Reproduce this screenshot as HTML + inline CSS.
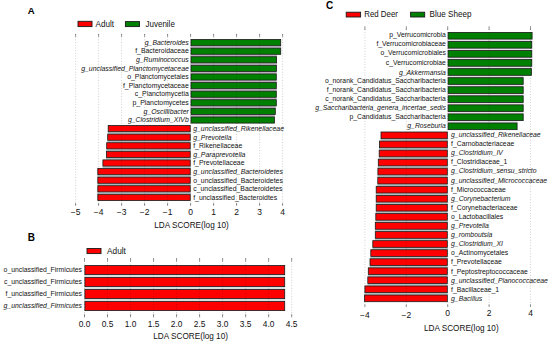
<!DOCTYPE html>
<html><head><meta charset="utf-8"><style>
html,body{margin:0;padding:0;background:#fff;}
body{width:550px;height:344px;overflow:hidden;}
svg{display:block;font-family:"Liberation Sans", sans-serif;}
text{stroke:none;}
text[font-weight=bold]{stroke:none;}
</style></head><body>
<svg width="550" height="344" viewBox="0 0 550 344">
<rect width="550" height="344" fill="#fff"/>
<line x1="75.6" y1="34" x2="75.6" y2="36.8" stroke="#7a7a7a" stroke-width="0.8"/>
<line x1="98.6" y1="34" x2="98.6" y2="36.8" stroke="#7a7a7a" stroke-width="0.8"/>
<line x1="121.6" y1="34" x2="121.6" y2="36.8" stroke="#7a7a7a" stroke-width="0.8"/>
<line x1="144.6" y1="34" x2="144.6" y2="36.8" stroke="#7a7a7a" stroke-width="0.8"/>
<line x1="167.6" y1="34" x2="167.6" y2="36.8" stroke="#7a7a7a" stroke-width="0.8"/>
<line x1="190.6" y1="34" x2="190.6" y2="36.8" stroke="#7a7a7a" stroke-width="0.8"/>
<line x1="213.6" y1="34" x2="213.6" y2="36.8" stroke="#7a7a7a" stroke-width="0.8"/>
<line x1="236.6" y1="34" x2="236.6" y2="36.8" stroke="#7a7a7a" stroke-width="0.8"/>
<line x1="259.6" y1="34" x2="259.6" y2="36.8" stroke="#7a7a7a" stroke-width="0.8"/>
<line x1="282.6" y1="34" x2="282.6" y2="36.8" stroke="#7a7a7a" stroke-width="0.8"/>
<line x1="75.6" y1="203" x2="75.6" y2="205.8" stroke="#7a7a7a" stroke-width="0.8"/>
<line x1="98.6" y1="203" x2="98.6" y2="205.8" stroke="#7a7a7a" stroke-width="0.8"/>
<line x1="121.6" y1="203" x2="121.6" y2="205.8" stroke="#7a7a7a" stroke-width="0.8"/>
<line x1="144.6" y1="203" x2="144.6" y2="205.8" stroke="#7a7a7a" stroke-width="0.8"/>
<line x1="167.6" y1="203" x2="167.6" y2="205.8" stroke="#7a7a7a" stroke-width="0.8"/>
<line x1="190.6" y1="203" x2="190.6" y2="205.8" stroke="#7a7a7a" stroke-width="0.8"/>
<line x1="213.6" y1="203" x2="213.6" y2="205.8" stroke="#7a7a7a" stroke-width="0.8"/>
<line x1="236.6" y1="203" x2="236.6" y2="205.8" stroke="#7a7a7a" stroke-width="0.8"/>
<line x1="259.6" y1="203" x2="259.6" y2="205.8" stroke="#7a7a7a" stroke-width="0.8"/>
<line x1="282.6" y1="203" x2="282.6" y2="205.8" stroke="#7a7a7a" stroke-width="0.8"/>
<rect x="190.6" y="46.1" width="90.5" height="1.6" fill="#bcaec0"/>
<rect x="190.6" y="54.7" width="86.4" height="1.6" fill="#bcaec0"/>
<rect x="190.6" y="63.3" width="86.2" height="1.6" fill="#bcaec0"/>
<rect x="190.6" y="71.9" width="86.1" height="1.6" fill="#bcaec0"/>
<rect x="190.6" y="80.5" width="86.1" height="1.6" fill="#bcaec0"/>
<rect x="190.6" y="89.1" width="86.1" height="1.6" fill="#bcaec0"/>
<rect x="190.6" y="97.7" width="86.1" height="1.6" fill="#bcaec0"/>
<rect x="190.6" y="106.3" width="85.1" height="1.6" fill="#bcaec0"/>
<rect x="190.6" y="114.9" width="84.2" height="1.6" fill="#bcaec0"/>
<rect x="107.8" y="132.1" width="82.8" height="1.6" fill="#a8bcbe"/>
<rect x="107.3" y="140.7" width="83.3" height="1.6" fill="#a8bcbe"/>
<rect x="106.3" y="149.3" width="84.3" height="1.6" fill="#a8bcbe"/>
<rect x="106" y="157.9" width="84.6" height="1.6" fill="#a8bcbe"/>
<rect x="102.5" y="166.5" width="88.1" height="1.6" fill="#a8bcbe"/>
<rect x="97.4" y="175.1" width="93.2" height="1.6" fill="#a8bcbe"/>
<rect x="97.4" y="183.7" width="93.2" height="1.6" fill="#a8bcbe"/>
<rect x="97.4" y="192.3" width="93.2" height="1.6" fill="#a8bcbe"/>
<rect x="191" y="39.5" width="89.7" height="6.2" fill="#008000" stroke="#1a1a1a" stroke-width="0.8"/>
<text x="188.8" y="44.8" font-size="6.9" text-anchor="end" font-style="italic" fill="#111">g_Bacteroides</text>
<rect x="191" y="48.1" width="89.7" height="6.2" fill="#008000" stroke="#1a1a1a" stroke-width="0.8"/>
<text x="188.8" y="53.4" font-size="6.9" text-anchor="end" fill="#111">f_Bacteroidaceae</text>
<rect x="191" y="56.7" width="85.6" height="6.2" fill="#008000" stroke="#1a1a1a" stroke-width="0.8"/>
<text x="188.8" y="62" font-size="6.9" text-anchor="end" font-style="italic" fill="#111">g_Ruminococcus</text>
<rect x="191" y="65.3" width="85.4" height="6.2" fill="#008000" stroke="#1a1a1a" stroke-width="0.8"/>
<text x="188.8" y="70.6" font-size="6.9" text-anchor="end" font-style="italic" fill="#111">g_unclassified_Planctomycetaceae</text>
<rect x="191" y="73.9" width="85.3" height="6.2" fill="#008000" stroke="#1a1a1a" stroke-width="0.8"/>
<text x="188.8" y="79.2" font-size="6.9" text-anchor="end" fill="#111">o_Planctomycetales</text>
<rect x="191" y="82.5" width="85.3" height="6.2" fill="#008000" stroke="#1a1a1a" stroke-width="0.8"/>
<text x="188.8" y="87.8" font-size="6.9" text-anchor="end" fill="#111">f_Planctomycetaceae</text>
<rect x="191" y="91.1" width="85.3" height="6.2" fill="#008000" stroke="#1a1a1a" stroke-width="0.8"/>
<text x="188.8" y="96.4" font-size="6.9" text-anchor="end" fill="#111">c_Planctomycetia</text>
<rect x="191" y="99.7" width="85.3" height="6.2" fill="#008000" stroke="#1a1a1a" stroke-width="0.8"/>
<text x="188.8" y="105" font-size="6.9" text-anchor="end" fill="#111">p_Planctomycetes</text>
<rect x="191" y="108.3" width="84.3" height="6.2" fill="#008000" stroke="#1a1a1a" stroke-width="0.8"/>
<text x="188.8" y="113.6" font-size="6.9" text-anchor="end" font-style="italic" fill="#111">g_Oscillibacter</text>
<rect x="191" y="116.9" width="83.4" height="6.2" fill="#008000" stroke="#1a1a1a" stroke-width="0.8"/>
<text x="188.8" y="122.2" font-size="6.9" text-anchor="end" font-style="italic" fill="#111">g_Clostridium_XIVb</text>
<rect x="108.2" y="125.5" width="82" height="6.2" fill="#ff0000" stroke="#1a1a1a" stroke-width="0.8"/>
<text x="193.2" y="130.9" font-size="6.9" text-anchor="start" font-style="italic" fill="#111">g_unclassified_Rikenellaceae</text>
<rect x="107.7" y="134.1" width="82.5" height="6.2" fill="#ff0000" stroke="#1a1a1a" stroke-width="0.8"/>
<text x="193.2" y="139.5" font-size="6.9" text-anchor="start" font-style="italic" fill="#111">g_Prevotella</text>
<rect x="106.7" y="142.7" width="83.5" height="6.2" fill="#ff0000" stroke="#1a1a1a" stroke-width="0.8"/>
<text x="193.2" y="148.1" font-size="6.9" text-anchor="start" fill="#111">f_Rikenellaceae</text>
<rect x="106.4" y="151.3" width="83.8" height="6.2" fill="#ff0000" stroke="#1a1a1a" stroke-width="0.8"/>
<text x="193.2" y="156.7" font-size="6.9" text-anchor="start" font-style="italic" fill="#111">g_Paraprevotella</text>
<rect x="102.9" y="159.9" width="87.3" height="6.2" fill="#ff0000" stroke="#1a1a1a" stroke-width="0.8"/>
<text x="193.2" y="165.3" font-size="6.9" text-anchor="start" fill="#111">f_Prevotellaceae</text>
<rect x="97.8" y="168.5" width="92.4" height="6.2" fill="#ff0000" stroke="#1a1a1a" stroke-width="0.8"/>
<text x="193.2" y="173.9" font-size="6.9" text-anchor="start" font-style="italic" fill="#111">g_unclassified_Bacteroidetes</text>
<rect x="97.8" y="177.1" width="92.4" height="6.2" fill="#ff0000" stroke="#1a1a1a" stroke-width="0.8"/>
<text x="193.2" y="182.5" font-size="6.9" text-anchor="start" fill="#111">o_unclassified_Bacteroidetes</text>
<rect x="97.8" y="185.7" width="92.4" height="6.2" fill="#ff0000" stroke="#1a1a1a" stroke-width="0.8"/>
<text x="193.2" y="191.1" font-size="6.9" text-anchor="start" fill="#111">c_unclassified_Bacteroidetes</text>
<rect x="97.8" y="194.3" width="92.4" height="6.2" fill="#ff0000" stroke="#1a1a1a" stroke-width="0.8"/>
<text x="193.2" y="199.7" font-size="6.9" text-anchor="start" fill="#111">f_unclassified_Bacteroidtes</text>
<text x="75.6" y="215" font-size="8.5" text-anchor="middle" fill="#111">−5</text>
<text x="98.6" y="215" font-size="8.5" text-anchor="middle" fill="#111">−4</text>
<text x="121.6" y="215" font-size="8.5" text-anchor="middle" fill="#111">−3</text>
<text x="144.6" y="215" font-size="8.5" text-anchor="middle" fill="#111">−2</text>
<text x="167.6" y="215" font-size="8.5" text-anchor="middle" fill="#111">−1</text>
<text x="190.6" y="215" font-size="8.5" text-anchor="middle" fill="#111">0</text>
<text x="213.6" y="215" font-size="8.5" text-anchor="middle" fill="#111">1</text>
<text x="236.6" y="215" font-size="8.5" text-anchor="middle" fill="#111">2</text>
<text x="259.6" y="215" font-size="8.5" text-anchor="middle" fill="#111">3</text>
<text x="282.6" y="215" font-size="8.5" text-anchor="middle" fill="#111">4</text>
<text x="154.2" y="227.6" font-size="8.2" text-anchor="start" fill="#111">LDA SCORE(log 10)</text>
<text x="27.8" y="13.9" font-size="9.6" text-anchor="start" font-weight="bold" fill="#000">A</text>
<rect x="78" y="21.3" width="14" height="5.3" fill="#ff0000" stroke="#1a1a1a" stroke-width="0.9"/>
<text transform="translate(95.5 26.6) scale(1 1.12)" font-size="8.1" text-anchor="start" fill="#111">Adult</text>
<rect x="125.4" y="21.6" width="14.1" height="5" fill="#008000" stroke="#1a1a1a" stroke-width="0.9"/>
<text transform="translate(145.5 26.6) scale(1 1.12)" font-size="8.0" text-anchor="start" fill="#111">Juvenile</text>
<line x1="84.5" y1="258.2" x2="84.5" y2="261.5" stroke="#7a7a7a" stroke-width="0.8"/>
<line x1="107.52" y1="258.2" x2="107.52" y2="261.5" stroke="#7a7a7a" stroke-width="0.8"/>
<line x1="130.54" y1="258.2" x2="130.54" y2="261.5" stroke="#7a7a7a" stroke-width="0.8"/>
<line x1="153.56" y1="258.2" x2="153.56" y2="261.5" stroke="#7a7a7a" stroke-width="0.8"/>
<line x1="176.58" y1="258.2" x2="176.58" y2="261.5" stroke="#7a7a7a" stroke-width="0.8"/>
<line x1="199.6" y1="258.2" x2="199.6" y2="261.5" stroke="#7a7a7a" stroke-width="0.8"/>
<line x1="222.62" y1="258.2" x2="222.62" y2="261.5" stroke="#7a7a7a" stroke-width="0.8"/>
<line x1="245.64" y1="258.2" x2="245.64" y2="261.5" stroke="#7a7a7a" stroke-width="0.8"/>
<line x1="268.66" y1="258.2" x2="268.66" y2="261.5" stroke="#7a7a7a" stroke-width="0.8"/>
<line x1="291.68" y1="258.2" x2="291.68" y2="261.5" stroke="#7a7a7a" stroke-width="0.8"/>
<line x1="84.5" y1="314.1" x2="84.5" y2="317.4" stroke="#7a7a7a" stroke-width="0.8"/>
<line x1="107.52" y1="314.1" x2="107.52" y2="317.4" stroke="#7a7a7a" stroke-width="0.8"/>
<line x1="130.54" y1="314.1" x2="130.54" y2="317.4" stroke="#7a7a7a" stroke-width="0.8"/>
<line x1="153.56" y1="314.1" x2="153.56" y2="317.4" stroke="#7a7a7a" stroke-width="0.8"/>
<line x1="176.58" y1="314.1" x2="176.58" y2="317.4" stroke="#7a7a7a" stroke-width="0.8"/>
<line x1="199.6" y1="314.1" x2="199.6" y2="317.4" stroke="#7a7a7a" stroke-width="0.8"/>
<line x1="222.62" y1="314.1" x2="222.62" y2="317.4" stroke="#7a7a7a" stroke-width="0.8"/>
<line x1="245.64" y1="314.1" x2="245.64" y2="317.4" stroke="#7a7a7a" stroke-width="0.8"/>
<line x1="268.66" y1="314.1" x2="268.66" y2="317.4" stroke="#7a7a7a" stroke-width="0.8"/>
<line x1="291.68" y1="314.1" x2="291.68" y2="317.4" stroke="#7a7a7a" stroke-width="0.8"/>
<rect x="84.5" y="275" width="200.6" height="2.1" fill="#d4e0e2"/>
<rect x="84.5" y="287" width="200.6" height="2.1" fill="#d4e0e2"/>
<rect x="84.5" y="299" width="200.6" height="2.1" fill="#d4e0e2"/>
<rect x="84.9" y="265.5" width="199.8" height="9.1" fill="#ff0000" stroke="#1a1a1a" stroke-width="0.8"/>
<text x="82" y="271.65" font-size="6.82" text-anchor="end" fill="#111">o_unclassified_Firmicutes</text>
<rect x="84.9" y="277.5" width="199.8" height="9.1" fill="#ff0000" stroke="#1a1a1a" stroke-width="0.8"/>
<text x="82" y="283.65" font-size="6.82" text-anchor="end" fill="#111">c_unclassified_Firmicutes</text>
<rect x="84.9" y="289.5" width="199.8" height="9.1" fill="#ff0000" stroke="#1a1a1a" stroke-width="0.8"/>
<text x="82" y="295.65" font-size="6.82" text-anchor="end" fill="#111">f_unclassified_Firmicutes</text>
<rect x="84.9" y="301.5" width="199.8" height="9.1" fill="#ff0000" stroke="#1a1a1a" stroke-width="0.8"/>
<text x="82" y="307.65" font-size="6.82" text-anchor="end" font-style="italic" fill="#111">g_unclassified_Firmicutes</text>
<text x="84.5" y="326.6" font-size="8.4" text-anchor="middle" fill="#111">0.0</text>
<text x="107.52" y="326.6" font-size="8.4" text-anchor="middle" fill="#111">0.5</text>
<text x="130.54" y="326.6" font-size="8.4" text-anchor="middle" fill="#111">1.0</text>
<text x="153.56" y="326.6" font-size="8.4" text-anchor="middle" fill="#111">1.5</text>
<text x="176.58" y="326.6" font-size="8.4" text-anchor="middle" fill="#111">2.0</text>
<text x="199.6" y="326.6" font-size="8.4" text-anchor="middle" fill="#111">2.5</text>
<text x="222.62" y="326.6" font-size="8.4" text-anchor="middle" fill="#111">3.0</text>
<text x="245.64" y="326.6" font-size="8.4" text-anchor="middle" fill="#111">3.5</text>
<text x="268.66" y="326.6" font-size="8.4" text-anchor="middle" fill="#111">4.0</text>
<text x="291.68" y="326.6" font-size="8.4" text-anchor="middle" fill="#111">4.5</text>
<text x="153.3" y="339" font-size="8.2" text-anchor="start" fill="#111">LDA SCORE(log 10)</text>
<text x="27.8" y="240.9" font-size="10" text-anchor="start" font-weight="bold" fill="#000">B</text>
<rect x="87" y="248.5" width="14" height="5.1" fill="#ff0000" stroke="#1a1a1a" stroke-width="0.9"/>
<text transform="translate(107 253.5) scale(1 1.1)" font-size="8.3" text-anchor="start" fill="#111">Adult</text>
<line x1="364.9" y1="26.5" x2="364.9" y2="30" stroke="#7a7a7a" stroke-width="0.8"/>
<line x1="406.3" y1="26.5" x2="406.3" y2="30" stroke="#7a7a7a" stroke-width="0.8"/>
<line x1="447.7" y1="26.5" x2="447.7" y2="30" stroke="#7a7a7a" stroke-width="0.8"/>
<line x1="489.1" y1="26.5" x2="489.1" y2="30" stroke="#7a7a7a" stroke-width="0.8"/>
<line x1="530.5" y1="26.5" x2="530.5" y2="30" stroke="#7a7a7a" stroke-width="0.8"/>
<line x1="364.9" y1="304.4" x2="364.9" y2="307.1" stroke="#7a7a7a" stroke-width="0.8"/>
<line x1="406.3" y1="304.4" x2="406.3" y2="307.1" stroke="#7a7a7a" stroke-width="0.8"/>
<line x1="447.7" y1="304.4" x2="447.7" y2="307.1" stroke="#7a7a7a" stroke-width="0.8"/>
<line x1="489.1" y1="304.4" x2="489.1" y2="307.1" stroke="#7a7a7a" stroke-width="0.8"/>
<line x1="530.5" y1="304.4" x2="530.5" y2="307.1" stroke="#7a7a7a" stroke-width="0.8"/>
<rect x="447.7" y="39.5" width="84.5" height="1.55" fill="#e6dee8"/>
<rect x="447.7" y="48.55" width="84.5" height="1.55" fill="#e6dee8"/>
<rect x="447.7" y="57.61" width="84.5" height="1.55" fill="#e6dee8"/>
<rect x="447.7" y="66.66" width="84.1" height="1.56" fill="#e6dee8"/>
<rect x="447.7" y="75.72" width="75.9" height="1.56" fill="#e6dee8"/>
<rect x="447.7" y="84.78" width="75.9" height="1.55" fill="#e6dee8"/>
<rect x="447.7" y="93.83" width="75.9" height="1.56" fill="#e6dee8"/>
<rect x="447.7" y="102.88" width="75.9" height="1.56" fill="#e6dee8"/>
<rect x="447.7" y="111.94" width="75.9" height="1.56" fill="#e6dee8"/>
<rect x="447.7" y="121" width="69.8" height="1.55" fill="#e6dee8"/>
<rect x="380.6" y="139.1" width="67.1" height="1.56" fill="#aec2c4"/>
<rect x="379.1" y="148.16" width="68.6" height="1.56" fill="#aec2c4"/>
<rect x="378.8" y="157.21" width="68.9" height="1.56" fill="#aec2c4"/>
<rect x="377.9" y="166.27" width="69.8" height="1.56" fill="#aec2c4"/>
<rect x="377.5" y="175.32" width="70.2" height="1.56" fill="#aec2c4"/>
<rect x="377.4" y="184.38" width="70.3" height="1.56" fill="#aec2c4"/>
<rect x="375.8" y="193.44" width="71.9" height="1.56" fill="#aec2c4"/>
<rect x="375.8" y="202.49" width="71.9" height="1.56" fill="#aec2c4"/>
<rect x="375.8" y="211.54" width="71.9" height="1.56" fill="#aec2c4"/>
<rect x="375.4" y="220.6" width="72.3" height="1.56" fill="#aec2c4"/>
<rect x="374.9" y="229.65" width="72.8" height="1.56" fill="#aec2c4"/>
<rect x="374.9" y="238.71" width="72.8" height="1.56" fill="#aec2c4"/>
<rect x="372.4" y="247.76" width="75.3" height="1.56" fill="#aec2c4"/>
<rect x="370.4" y="256.82" width="77.3" height="1.56" fill="#aec2c4"/>
<rect x="369.6" y="265.88" width="78.1" height="1.56" fill="#aec2c4"/>
<rect x="367.9" y="274.93" width="79.8" height="1.56" fill="#aec2c4"/>
<rect x="367.4" y="283.98" width="80.3" height="1.56" fill="#aec2c4"/>
<rect x="364.5" y="293.04" width="83.2" height="1.56" fill="#aec2c4"/>
<rect x="448.1" y="32.4" width="84" height="6.7" fill="#008000" stroke="#1a1a1a" stroke-width="0.8"/>
<text x="445.9" y="37.15" font-size="6.8" text-anchor="end" fill="#111">p_Verrucomicrobia</text>
<rect x="448.1" y="41.45" width="83.7" height="6.7" fill="#008000" stroke="#1a1a1a" stroke-width="0.8"/>
<text x="445.9" y="46.25" font-size="6.8" text-anchor="end" fill="#111">f_Verrucomicrobiaceae</text>
<rect x="448.1" y="50.51" width="83.7" height="6.7" fill="#008000" stroke="#1a1a1a" stroke-width="0.8"/>
<text x="445.9" y="55.35" font-size="6.8" text-anchor="end" fill="#111">o_Verrucomicrobiales</text>
<rect x="448.1" y="59.56" width="83.7" height="6.7" fill="#008000" stroke="#1a1a1a" stroke-width="0.8"/>
<text x="445.9" y="65.45" font-size="6.8" text-anchor="end" fill="#111">c_Verrucomicrobiae</text>
<rect x="448.1" y="68.62" width="83.3" height="6.7" fill="#008000" stroke="#1a1a1a" stroke-width="0.8"/>
<text x="445.9" y="74.55" font-size="6.8" text-anchor="end" font-style="italic" fill="#111">g_Akkermansia</text>
<rect x="448.1" y="77.68" width="75.1" height="6.7" fill="#008000" stroke="#1a1a1a" stroke-width="0.8"/>
<text x="445.9" y="82.65" font-size="6.8" text-anchor="end" fill="#111">o_norank_Candidatus_Saccharibacteria</text>
<rect x="448.1" y="86.73" width="75.1" height="6.7" fill="#008000" stroke="#1a1a1a" stroke-width="0.8"/>
<text x="445.9" y="91.75" font-size="6.8" text-anchor="end" fill="#111">f_norank_Candidatus_Saccharibacteria</text>
<rect x="448.1" y="95.78" width="75.1" height="6.7" fill="#008000" stroke="#1a1a1a" stroke-width="0.8"/>
<text x="445.9" y="100.85" font-size="6.8" text-anchor="end" fill="#111">c_norank_Candidatus_Saccharibacteria</text>
<rect x="448.1" y="104.84" width="75.1" height="6.7" fill="#008000" stroke="#1a1a1a" stroke-width="0.8"/>
<text x="445.9" y="109.95" font-size="6.8" text-anchor="end" font-style="italic" fill="#111">g_Saccharibacteria_genera_incertae_sedis</text>
<rect x="448.1" y="113.9" width="75.1" height="6.7" fill="#008000" stroke="#1a1a1a" stroke-width="0.8"/>
<text x="445.9" y="119.05" font-size="6.8" text-anchor="end" fill="#111">p_Candidatus_Saccharibacteria</text>
<rect x="448.1" y="122.95" width="69" height="6.7" fill="#008000" stroke="#1a1a1a" stroke-width="0.8"/>
<text x="445.9" y="128.15" font-size="6.8" text-anchor="end" font-style="italic" fill="#111">g_Roseburia</text>
<rect x="381" y="132" width="66.3" height="6.7" fill="#ff0000" stroke="#1a1a1a" stroke-width="0.8"/>
<text x="451.1" y="137.05" font-size="6.8" text-anchor="start" font-style="italic" fill="#111">g_unclassified_Rikenellaceae</text>
<rect x="379.5" y="141.06" width="67.8" height="6.7" fill="#ff0000" stroke="#1a1a1a" stroke-width="0.8"/>
<text x="451.1" y="146.15" font-size="6.8" text-anchor="start" fill="#111">f_Carnobacteriaceae</text>
<rect x="379.2" y="150.12" width="68.1" height="6.7" fill="#ff0000" stroke="#1a1a1a" stroke-width="0.8"/>
<text x="451.1" y="155.25" font-size="6.8" text-anchor="start" font-style="italic" fill="#111">g_Clostridium_IV</text>
<rect x="378.3" y="159.17" width="69" height="6.7" fill="#ff0000" stroke="#1a1a1a" stroke-width="0.8"/>
<text x="451.1" y="164.35" font-size="6.8" text-anchor="start" fill="#111">f_Clostridiaceae_1</text>
<rect x="377.9" y="168.22" width="69.4" height="6.7" fill="#ff0000" stroke="#1a1a1a" stroke-width="0.8"/>
<text x="451.1" y="173.45" font-size="6.8" text-anchor="start" font-style="italic" fill="#111">g_Clostridium_sensu_stricto</text>
<rect x="377.8" y="177.28" width="69.5" height="6.7" fill="#ff0000" stroke="#1a1a1a" stroke-width="0.8"/>
<text x="451.1" y="182.55" font-size="6.8" text-anchor="start" font-style="italic" fill="#111">g_unclassified_Micrococcaceae</text>
<rect x="376.2" y="186.34" width="71.1" height="6.7" fill="#ff0000" stroke="#1a1a1a" stroke-width="0.8"/>
<text x="451.1" y="191.65" font-size="6.8" text-anchor="start" fill="#111">f_Micrococcaceae</text>
<rect x="376.2" y="195.39" width="71.1" height="6.7" fill="#ff0000" stroke="#1a1a1a" stroke-width="0.8"/>
<text x="451.1" y="200.75" font-size="6.8" text-anchor="start" font-style="italic" fill="#111">g_Corynebacterium</text>
<rect x="376.2" y="204.44" width="71.1" height="6.7" fill="#ff0000" stroke="#1a1a1a" stroke-width="0.8"/>
<text x="451.1" y="209.85" font-size="6.8" text-anchor="start" fill="#111">f_Corynebacteriaceae</text>
<rect x="375.8" y="213.5" width="71.5" height="6.7" fill="#ff0000" stroke="#1a1a1a" stroke-width="0.8"/>
<text x="451.1" y="218.95" font-size="6.8" text-anchor="start" fill="#111">o_Lactobacillales</text>
<rect x="375.3" y="222.56" width="72" height="6.7" fill="#ff0000" stroke="#1a1a1a" stroke-width="0.8"/>
<text x="451.1" y="228.05" font-size="6.8" text-anchor="start" font-style="italic" fill="#111">g_Prevotella</text>
<rect x="375.3" y="231.61" width="72" height="6.7" fill="#ff0000" stroke="#1a1a1a" stroke-width="0.8"/>
<text x="451.1" y="237.15" font-size="6.8" text-anchor="start" font-style="italic" fill="#111">g_romboutsia</text>
<rect x="372.8" y="240.66" width="74.5" height="6.7" fill="#ff0000" stroke="#1a1a1a" stroke-width="0.8"/>
<text x="451.1" y="246.25" font-size="6.8" text-anchor="start" font-style="italic" fill="#111">g_Clostridium_XI</text>
<rect x="370.8" y="249.72" width="76.5" height="6.7" fill="#ff0000" stroke="#1a1a1a" stroke-width="0.8"/>
<text x="451.1" y="255.35" font-size="6.8" text-anchor="start" fill="#111">o_Actinomycetales</text>
<rect x="370" y="258.77" width="77.3" height="6.7" fill="#ff0000" stroke="#1a1a1a" stroke-width="0.8"/>
<text x="451.1" y="264.45" font-size="6.8" text-anchor="start" fill="#111">f_Prevotellaceae</text>
<rect x="368.3" y="267.83" width="79" height="6.7" fill="#ff0000" stroke="#1a1a1a" stroke-width="0.8"/>
<text x="451.1" y="273.55" font-size="6.8" text-anchor="start" fill="#111">f_Peptostreptococcaceae</text>
<rect x="367.8" y="276.88" width="79.5" height="6.7" fill="#ff0000" stroke="#1a1a1a" stroke-width="0.8"/>
<text x="451.1" y="282.65" font-size="6.8" text-anchor="start" font-style="italic" fill="#111">g_unclassified_Planococcaceae</text>
<rect x="364.9" y="285.94" width="82.4" height="6.7" fill="#ff0000" stroke="#1a1a1a" stroke-width="0.8"/>
<text x="451.1" y="291.75" font-size="6.8" text-anchor="start" fill="#111">f_Bacillaceae_1</text>
<rect x="364.6" y="294.99" width="82.7" height="6.7" fill="#ff0000" stroke="#1a1a1a" stroke-width="0.8"/>
<text x="451.1" y="300.85" font-size="6.8" text-anchor="start" font-style="italic" fill="#111">g_Bacillus</text>
<text x="364.9" y="317.6" font-size="8.5" text-anchor="middle" fill="#111">−4</text>
<text x="406.3" y="317.6" font-size="8.5" text-anchor="middle" fill="#111">−2</text>
<text x="447.7" y="316.2" font-size="8.5" text-anchor="middle" fill="#111">0</text>
<text x="489.1" y="316.2" font-size="8.5" text-anchor="middle" fill="#111">2</text>
<text x="530.5" y="316.2" font-size="8.5" text-anchor="middle" fill="#111">4</text>
<text x="424" y="330.9" font-size="8.2" text-anchor="start" fill="#111">LDA SCORE(log 10)</text>
<text x="326" y="9.1" font-size="10" text-anchor="start" font-weight="bold" fill="#000">C</text>
<rect x="346.2" y="12.2" width="14.4" height="4.8" fill="#ff0000" stroke="#1a1a1a" stroke-width="0.9"/>
<text transform="translate(364.2 16.6) scale(1 1.12)" font-size="7.9" text-anchor="start" fill="#111">Red Deer</text>
<rect x="410.6" y="12.2" width="14.1" height="4.8" fill="#008000" stroke="#1a1a1a" stroke-width="0.9"/>
<text transform="translate(429.6 16.6) scale(1 1.1)" font-size="8.1" text-anchor="start" fill="#111">Blue Sheep</text>
<line x1="75.6" y1="34" x2="75.6" y2="206" stroke="#000" stroke-opacity="0.3" stroke-width="0.7" stroke-dasharray="0.9 1.8"/>
<line x1="98.6" y1="34" x2="98.6" y2="206" stroke="#000" stroke-opacity="0.3" stroke-width="0.7" stroke-dasharray="0.9 1.8"/>
<line x1="121.6" y1="34" x2="121.6" y2="206" stroke="#000" stroke-opacity="0.3" stroke-width="0.7" stroke-dasharray="0.9 1.8"/>
<line x1="144.6" y1="34" x2="144.6" y2="206" stroke="#000" stroke-opacity="0.3" stroke-width="0.7" stroke-dasharray="0.9 1.8"/>
<line x1="167.6" y1="34" x2="167.6" y2="206" stroke="#000" stroke-opacity="0.3" stroke-width="0.7" stroke-dasharray="0.9 1.8"/>
<line x1="190.6" y1="34" x2="190.6" y2="206" stroke="#000" stroke-opacity="0.3" stroke-width="0.7" stroke-dasharray="0.9 1.8"/>
<line x1="213.6" y1="34" x2="213.6" y2="206" stroke="#000" stroke-opacity="0.3" stroke-width="0.7" stroke-dasharray="0.9 1.8"/>
<line x1="236.6" y1="34" x2="236.6" y2="206" stroke="#000" stroke-opacity="0.3" stroke-width="0.7" stroke-dasharray="0.9 1.8"/>
<line x1="259.6" y1="34" x2="259.6" y2="206" stroke="#000" stroke-opacity="0.3" stroke-width="0.7" stroke-dasharray="0.9 1.8"/>
<line x1="282.6" y1="34" x2="282.6" y2="206" stroke="#000" stroke-opacity="0.3" stroke-width="0.7" stroke-dasharray="0.9 1.8"/>
<line x1="84.5" y1="258.2" x2="84.5" y2="317.4" stroke="#000" stroke-opacity="0.3" stroke-width="0.7" stroke-dasharray="0.9 1.8"/>
<line x1="107.52" y1="258.2" x2="107.52" y2="317.4" stroke="#000" stroke-opacity="0.3" stroke-width="0.7" stroke-dasharray="0.9 1.8"/>
<line x1="130.54" y1="258.2" x2="130.54" y2="317.4" stroke="#000" stroke-opacity="0.3" stroke-width="0.7" stroke-dasharray="0.9 1.8"/>
<line x1="153.56" y1="258.2" x2="153.56" y2="317.4" stroke="#000" stroke-opacity="0.3" stroke-width="0.7" stroke-dasharray="0.9 1.8"/>
<line x1="176.58" y1="258.2" x2="176.58" y2="317.4" stroke="#000" stroke-opacity="0.3" stroke-width="0.7" stroke-dasharray="0.9 1.8"/>
<line x1="199.6" y1="258.2" x2="199.6" y2="317.4" stroke="#000" stroke-opacity="0.3" stroke-width="0.7" stroke-dasharray="0.9 1.8"/>
<line x1="222.62" y1="258.2" x2="222.62" y2="317.4" stroke="#000" stroke-opacity="0.3" stroke-width="0.7" stroke-dasharray="0.9 1.8"/>
<line x1="245.64" y1="258.2" x2="245.64" y2="317.4" stroke="#000" stroke-opacity="0.3" stroke-width="0.7" stroke-dasharray="0.9 1.8"/>
<line x1="268.66" y1="258.2" x2="268.66" y2="317.4" stroke="#000" stroke-opacity="0.3" stroke-width="0.7" stroke-dasharray="0.9 1.8"/>
<line x1="291.68" y1="258.2" x2="291.68" y2="317.4" stroke="#000" stroke-opacity="0.3" stroke-width="0.7" stroke-dasharray="0.9 1.8"/>
<line x1="364.9" y1="26.5" x2="364.9" y2="307.1" stroke="#000" stroke-opacity="0.3" stroke-width="0.7" stroke-dasharray="0.9 1.8"/>
<line x1="406.3" y1="26.5" x2="406.3" y2="307.1" stroke="#000" stroke-opacity="0.3" stroke-width="0.7" stroke-dasharray="0.9 1.8"/>
<line x1="447.7" y1="26.5" x2="447.7" y2="307.1" stroke="#000" stroke-opacity="0.3" stroke-width="0.7" stroke-dasharray="0.9 1.8"/>
<line x1="489.1" y1="26.5" x2="489.1" y2="307.1" stroke="#000" stroke-opacity="0.3" stroke-width="0.7" stroke-dasharray="0.9 1.8"/>
<line x1="530.5" y1="26.5" x2="530.5" y2="307.1" stroke="#000" stroke-opacity="0.3" stroke-width="0.7" stroke-dasharray="0.9 1.8"/>
</svg>
</body></html>
